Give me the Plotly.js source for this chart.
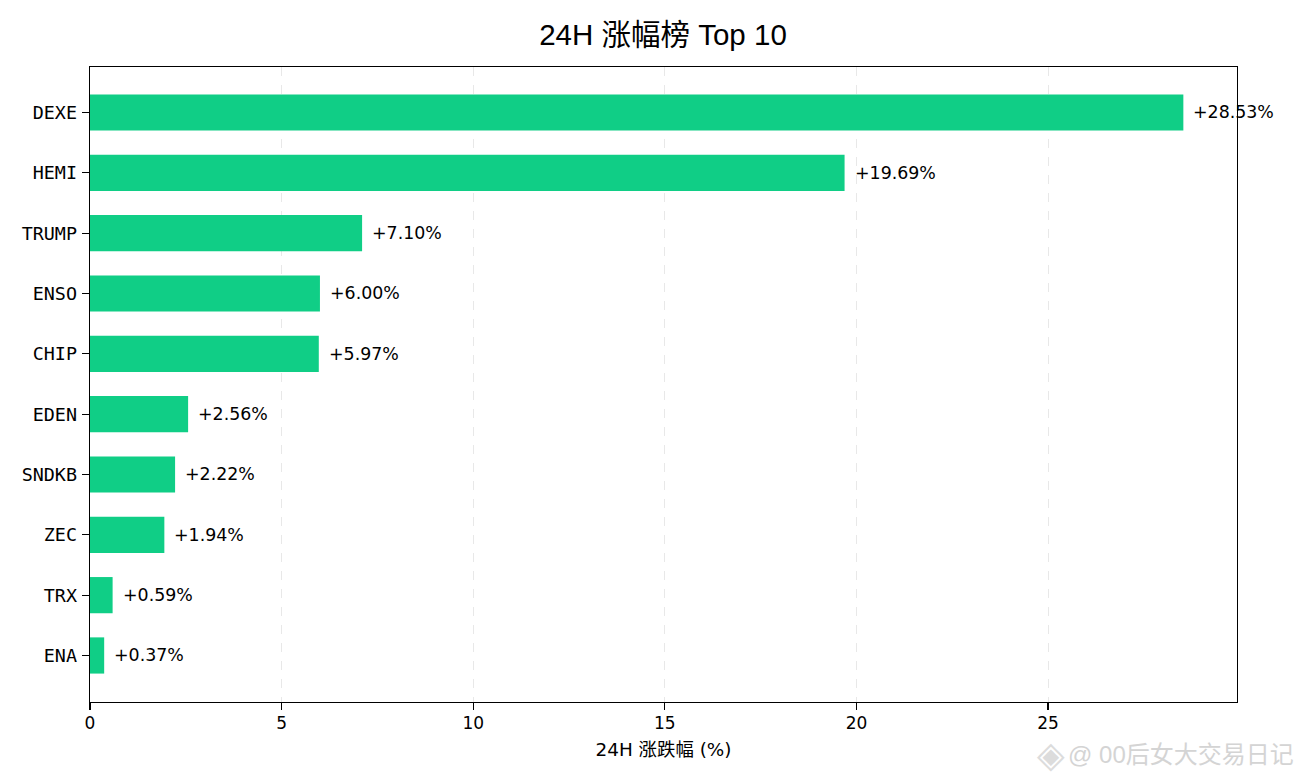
<!DOCTYPE html>
<html><head><meta charset="utf-8">
<script src="https://cdn.plot.ly/plotly-3.0.1.min.js"></script>
<style>html,body{margin:0;padding:0;background:#fff}</style></head>
<body><div id="chart" style="width:1300px;height:780px"></div>
<script>
const symbols = ["DEXE","HEMI","TRUMP","ENSO","CHIP","EDEN","SNDKB","ZEC","TRX","ENA"];
const changes = [28.53,19.69,7.10,6.00,5.97,2.56,2.22,1.94,0.59,0.37];
const labels = ["+28.53%","+19.69%","+7.10%","+6.00%","+5.97%","+2.56%","+2.22%","+1.94%","+0.59%","+0.37%"];
const xTicks = [0,5,10,15,20,25];
const font = "'Liberation Sans','Noto Sans CJK SC',sans-serif";
const mono = "'DejaVu Sans Mono','Noto Sans CJK SC',monospace";
const wide = "'DejaVu Sans','Noto Sans CJK SC',sans-serif";
const annotations = symbols.map((s,i)=>({x:changes[i],y:s,xref:'x',yref:'y',text:labels[i],showarrow:false,xanchor:'left',yanchor:'middle',xshift:8,font:{family:wide,size:17.4,color:'#000'}}));
annotations.push({xref:'paper',yref:'paper',x:1.0515,y:-0.083,xanchor:'right',yanchor:'middle',text:'@ 00后女大交易日记',showarrow:false,font:{family:font,size:24,color:'#d4d4d4'}});
annotations.push({xref:'paper',yref:'paper',x:0.8375,y:-0.083,xanchor:'center',yanchor:'middle',text:'◈',showarrow:false,font:{family:wide,size:36,color:'#dcdcdc'}});
Plotly.newPlot('chart',[{
  type:'bar',orientation:'h',x:changes,y:symbols,width:0.6,marker:{color:'#10CE86',line:{width:0}},hoverinfo:'skip'
}],{
  width:1300,height:780,paper_bgcolor:'#fff',plot_bgcolor:'#fff',showlegend:false,
  margin:{l:89.5,r:63,t:67,b:78},
  title:{text:'24H 涨幅榜 Top 10',font:{family:font,size:29.5,color:'#000'},x:0.51,xanchor:'center',y:0.956,yanchor:'middle'},
  xaxis:{range:[0,29.93],tickvals:xTicks,ticktext:xTicks.map(String),ticks:'outside',ticklen:7,tickwidth:1.3,tickcolor:'#000',
    showline:true,linecolor:'#000',linewidth:1.3,mirror:true,zeroline:false,
    showgrid:true,gridcolor:'#e8e8e8',griddash:'dash',gridwidth:1,
    tickfont:{family:wide,size:17,color:'#000'},ticklabelstandoff:-2,
    title:{text:'24H 涨跌幅 (%)',font:{family:wide,size:18.4,color:'#000'},standoff:11}},
  yaxis:{type:'category',categoryorder:'array',categoryarray:symbols,range:[9.771,-0.754],ticks:'outside',ticklen:7,tickwidth:1.3,tickcolor:'#000',
    showline:true,linecolor:'#000',linewidth:1.3,mirror:true,showgrid:false,zeroline:false,
    tickfont:{family:mono,size:18.4,color:'#000'},ticklabelstandoff:1},
  annotations:annotations
},{displayModeBar:false,staticPlot:true});
</script></body></html>
